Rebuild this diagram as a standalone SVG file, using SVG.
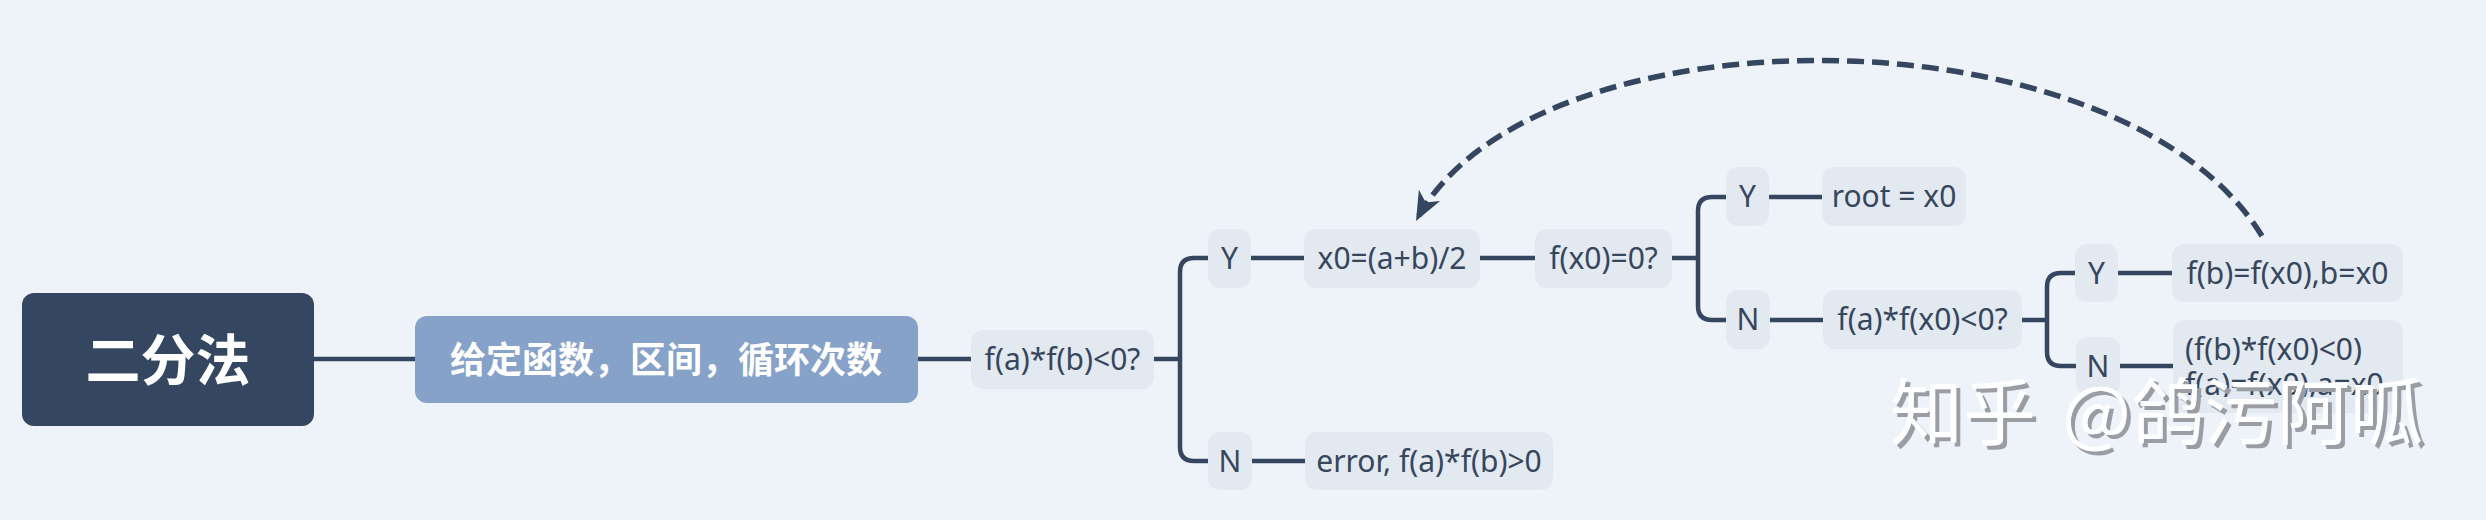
<svg xmlns="http://www.w3.org/2000/svg" width="2486" height="520" viewBox="0 0 2486 520">
<defs>
<style>
.bg{fill:#EEF3FA}
.n{fill:#E3E9F1}
.t{font-family:"Noto Sans","Open Sans","DejaVu Sans",sans-serif;font-size:30px;fill:#36465C;text-anchor:middle}
.tl{font-family:"Noto Sans","Open Sans","DejaVu Sans",sans-serif;font-size:30px;fill:#36465C}
.c{fill:none;stroke:#344660;stroke-width:4.5;stroke-linecap:butt}
.d{fill:none;stroke:#344660;stroke-width:5.5;stroke-dasharray:17 8}
.wm{font-family:"Noto Sans CJK SC","Noto Sans",sans-serif;font-size:73px}
</style>
<marker id="ah" markerUnits="userSpaceOnUse" viewBox="-30 -13 32 26" refX="0" refY="0" markerWidth="32" markerHeight="26" orient="auto">
<path d="M0,0 L-29,-12 L-21,0 L-29,12 Z" fill="#344660"/>
</marker>
<clipPath id="clip2">
<rect x="2173" y="320" width="230" height="77"/>
</clipPath>
</defs>
<rect class="bg" x="0" y="0" width="2486" height="520"/>

<g id="connectors">
<line class="c" x1="314" y1="359" x2="415" y2="359"/>
<line class="c" x1="918" y1="359" x2="971" y2="359"/>
<path class="c" d="M1154,359 H1180 M1208,258 H1194 Q1180,258 1180,272 V447 Q1180,461 1194,461 H1208"/>
<line class="c" x1="1251" y1="258" x2="1304" y2="258"/>
<line class="c" x1="1252" y1="461" x2="1305" y2="461"/>
<line class="c" x1="1480" y1="258" x2="1535" y2="258"/>
<path class="c" d="M1672,258 H1698 M1726,197 H1712 Q1698,197 1698,211 V306 Q1698,320 1712,320 H1726"/>
<line class="c" x1="1769" y1="197" x2="1822" y2="197"/>
<line class="c" x1="1770" y1="320" x2="1823" y2="320"/>
<path class="c" d="M2022,320 H2047 M2075,273 H2061 Q2047,273 2047,287 V352 Q2047,366 2061,366 H2076"/>
<line class="c" x1="2118" y1="273" x2="2172" y2="273"/>
<line class="c" x1="2120" y1="366" x2="2173" y2="366"/>
<path class="d" d="M2262,236 C2120,5 1530,4 1416,221" marker-end="url(#ah)"/>
</g>

<g id="root">
<rect x="22" y="293" width="292" height="133" rx="12" fill="#344660"/>
<text x="168" y="380" font-family="'Noto Sans CJK SC',sans-serif" font-size="55" font-weight="bold" fill="#FFFFFF" text-anchor="middle">二分法</text>
</g>
<g id="given">
<rect x="415" y="316" width="503" height="87" rx="12" fill="#86A2C9"/>
<text x="666" y="373" font-family="'Noto Sans CJK SC',sans-serif" font-size="36" font-weight="bold" fill="#FFFFFF" text-anchor="middle">给定函数，区间，循环次数</text>
</g>
<g id="cond1">
<rect class="n" x="971" y="330" width="183" height="59" rx="12"/>
<text class="t" x="1062.5" y="370">f(a)*f(b)&lt;0?</text>
</g>
<g id="y1">
<rect class="n" x="1208" y="229" width="43" height="59" rx="12"/>
<text class="t" x="1229.5" y="269">Y</text>
</g>
<g id="x0">
<rect class="n" x="1304" y="229" width="176" height="59" rx="12"/>
<text class="t" x="1392" y="269">x0=(a+b)/2</text>
</g>
<g id="fx0">
<rect class="n" x="1535" y="229" width="137" height="59" rx="12"/>
<text class="t" x="1603.5" y="269">f(x0)=0?</text>
</g>
<g id="y2">
<rect class="n" x="1726" y="167" width="43" height="59" rx="12"/>
<text class="t" x="1747.5" y="207">Y</text>
</g>
<g id="rootx0">
<rect class="n" x="1822" y="167" width="144" height="59" rx="12"/>
<text class="t" x="1894" y="207">root = x0</text>
</g>
<g id="n2">
<rect class="n" x="1726" y="290" width="44" height="59" rx="12"/>
<text class="t" x="1748" y="330">N</text>
</g>
<g id="cond2">
<rect class="n" x="1823" y="290" width="199" height="59" rx="12"/>
<text class="t" x="1922.5" y="330">f(a)*f(x0)&lt;0?</text>
</g>
<g id="y3">
<rect class="n" x="2075" y="244" width="43" height="58" rx="12"/>
<text class="t" x="2096.5" y="283.5">Y</text>
</g>
<g id="setb">
<rect class="n" x="2172" y="244" width="231" height="58" rx="12"/>
<text class="t" x="2287.5" y="283.5">f(b)=f(x0),b=x0</text>
</g>
<g id="n3">
<rect class="n" x="2076" y="337" width="44" height="58" rx="12"/>
<text class="t" x="2098" y="376.5">N</text>
</g>
<g id="seta">
<rect class="n" x="2173" y="320" width="230" height="93" rx="12"/>
<text class="tl" x="2185" y="360">(f(b)*f(x0)&lt;0)</text>
<text class="tl" x="2185" y="395" clip-path="url(#clip2)">f(a)=f(x0),a=x0</text>
</g>
<g id="n1">
<rect class="n" x="1208" y="432" width="44" height="58" rx="12"/>
<text class="t" x="1230" y="471.5">N</text>
</g>
<g id="error">
<rect class="n" x="1305" y="432" width="248" height="58" rx="12"/>
<text class="t" x="1429" y="471.5">error, f(a)*f(b)&gt;0</text>
</g>

<g id="watermark">
<text class="wm" x="1894" y="443" fill="#9A9EA4">知乎</text>
<text class="wm" x="2427" y="443" fill="#9A9EA4" text-anchor="end">@鸽污阿呱</text>
<text class="wm" x="1890" y="439" fill="#FFFFFF">知乎</text>
<text class="wm" x="2423" y="439" fill="#FFFFFF" text-anchor="end">@鸽污阿呱</text>
</g>
</svg>
